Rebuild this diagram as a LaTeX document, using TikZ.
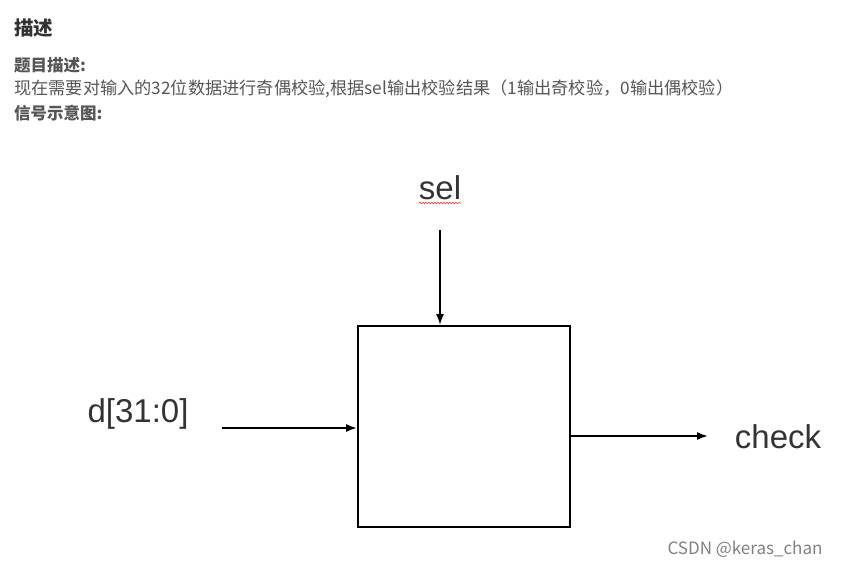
\documentclass[tikz,border=0pt]{standalone}
\usepackage{fontspec}
\setmainfont{Liberation Sans}
\newfontfamily\cjk{Noto Sans CJK SC}
\usetikzlibrary{decorations.pathmorphing,arrows.meta}
\definecolor{hd}{HTML}{333333}
\definecolor{tx}{HTML}{555555}
\begin{document}
\begin{tikzpicture}[x=1pt,y=-1pt,
  big/.style={font=\fontsize{33}{35}\selectfont, text=black!80, inner sep=0},
  sig/.style={-{Latex[length=11pt,width=8pt]}, line width=1.8pt},
  hdr/.style={anchor=west, inner sep=0, text=tx, font=\cjk\bfseries\fontsize{16.5}{18}\selectfont}]
\useasboundingbox (0,0) rectangle (845,566);
\node[anchor=west,inner sep=0,text=hd,font=\cjk\bfseries\fontsize{19.5}{21}\selectfont] (t0) at (14,28) {描述};
\node[hdr] (t1) at (14,65) {题目描述:};
\node[anchor=west,inner sep=0,text=tx,font=\cjk\fontsize{17.2}{19}\selectfont] (t2) at (14,89) {现在需要对输入的32位数据进行奇偶校验,根据sel输出校验结果（1输出奇校验，0输出偶校验）};
\node[hdr] (t3) at (14,113) {信号示意图:};
\node[draw, line width=1.8pt, minimum width=212pt, minimum height=201pt, inner sep=0] (box) at (464,426.5) {};
\node[big] (sel) at (440,188) {sel};
\draw[red!80, line width=0.6pt, decorate, decoration={snake, amplitude=0.8pt, segment length=3pt}] (419,203) -- (461,203);
\node[big] (d) at (138,414) {d[31:0]};
\node[big] (chk) at (778,437) {check};
\coordinate (sa) at (440,230);
\coordinate (da) at (222,428);
\coordinate (ce) at (708,436);
\draw[sig] (sa) -- (sa |- box.north);
\draw[sig] (da) -- (da -| box.west);
\draw[sig] (box.east |- ce) -- (ce);
\node[text=black!50, inner sep=0, font=\cjk\fontsize{17}{19}\selectfont] (wm) at (745,549) {CSDN @keras\_chan};
\end{tikzpicture}
\end{document}
